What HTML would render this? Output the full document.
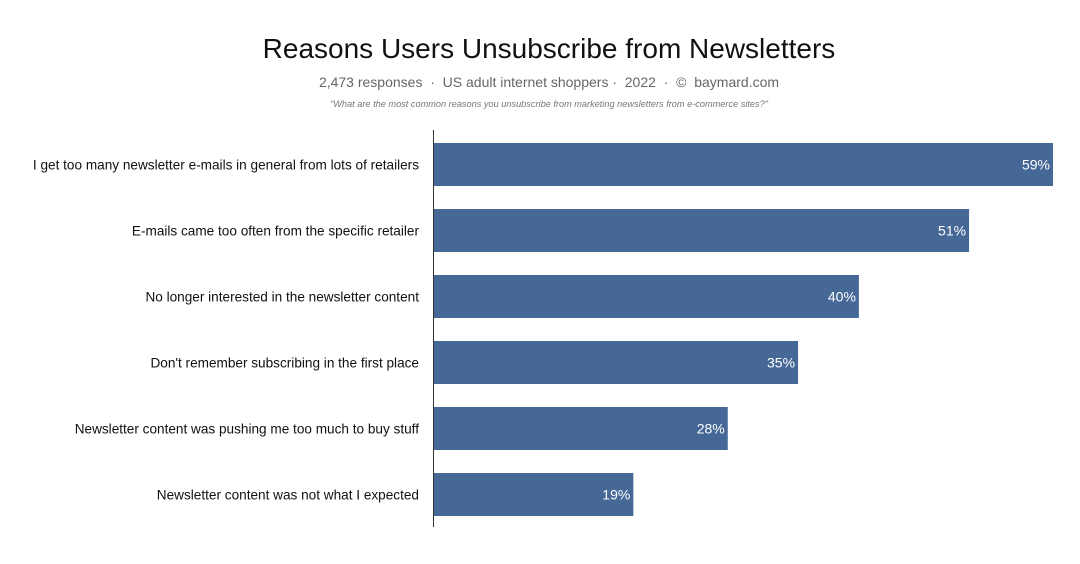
<!DOCTYPE html>
<html><head><meta charset="utf-8">
<style>
body{margin:0;background:#fff;width:1080px;height:559px;overflow:hidden;font-family:"Liberation Sans",Arial,sans-serif}
svg text{font-family:"Liberation Sans",Arial,sans-serif;white-space:pre}
</style></head>
<body>
<svg id="chart" width="1080" height="559" xmlns="http://www.w3.org/2000/svg">
<text x="549" y="58" text-anchor="middle" font-size="28" fill="#111">Reasons Users Unsubscribe from Newsletters</text>
<text x="549" y="87" text-anchor="middle" font-size="14" fill="#666" xml:space="preserve">2,473 responses  ·  US adult internet shoppers ·  2022  ·  ©  baymard.com</text>
<text x="549" y="107" text-anchor="middle" font-size="9.2" font-style="italic" fill="#777">"What are the most common reasons you unsubscribe from marketing newsletters from e-commerce sites?"</text>
<line x1="433.5" y1="130" x2="433.5" y2="527" stroke="#333" stroke-width="1"/>
<g id="bars"></g>
</svg>
<script>
const categories=["I get too many newsletter e-mails in general from lots of retailers","E-mails came too often from the specific retailer","No longer interested in the newsletter content","Don't remember subscribing in the first place","Newsletter content was pushing me too much to buy stuff","Newsletter content was not what I expected"];
const values=[59,51,40.5,34.7,28,19];
const valueLabels=["59%","51%","40%","35%","28%","19%"];
const x0=434, pxPer=619/59, top0=143, pitch=66, bh=43;
const xs=v=>x0+v*pxPer;
const g=document.getElementById('bars');
const NS="http://www.w3.org/2000/svg";
categories.forEach((c,i)=>{
  const y=top0+i*pitch;
  const r=document.createElementNS(NS,'rect');
  
  
  r.setAttribute('x',x0);r.setAttribute('y',y);
  r.setAttribute('width',xs(values[i])-x0);r.setAttribute('height',bh);
  r.setAttribute('fill','#456896');
  g.appendChild(r);
  const t=document.createElementNS(NS,'text');
  
  
  t.setAttribute('x',419);t.setAttribute('y',y+bh/2+5);
  t.setAttribute('text-anchor','end');t.setAttribute('font-size','13.6');t.setAttribute('fill','#111');
  t.textContent=c;g.appendChild(t);
  const v=document.createElementNS(NS,'text');
  
  
  v.setAttribute('x',xs(values[i])-3);v.setAttribute('y',y+bh/2+5);
  v.setAttribute('text-anchor','end');v.setAttribute('font-size','14');v.setAttribute('fill','#fff');
  v.textContent=valueLabels[i];g.appendChild(v);
});
</script>
</body></html>
